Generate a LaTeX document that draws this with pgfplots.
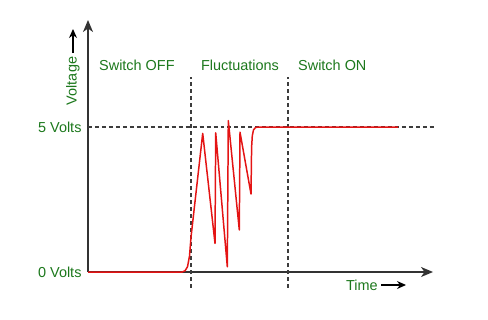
\documentclass[border=0pt]{standalone}
\usepackage{pgfplots}
\pgfplotsset{compat=1.18}
\usepackage{fontspec}
\setmainfont{Liberation Sans}
\usetikzlibrary{arrows.meta}
\definecolor{lblgreen}{RGB}{28,120,28}
\definecolor{sigred}{RGB}{228,20,20}
\definecolor{dashgray}{RGB}{60,60,60}
\begin{document}
\begin{tikzpicture}[x=1bp,y=1bp]
\path[use as bounding box] (0,0) rectangle (488,319);
\begin{axis}[
  at={(88bp,47bp)}, anchor=south west,
  scale only axis, width=345bp, height=252bp,
  xmin=0, xmax=345, ymin=0, ymax=8.69,
  axis lines=left,
  axis line style={line width=1.3pt, draw=black!80, -{Stealth[length=12bp,width=10bp,inset=3.5bp]}},
  xtick=\empty, ytick={0,5}, yticklabels={0 Volts,5 Volts},
  yticklabel style={text=lblgreen, font=\fontsize{14.5}{15}\selectfont, xshift=-3bp},
  /pgf/number format/assume math mode=true,
  major tick length=0pt,
  clip=false,
]
% reference dashed lines
\addplot[dashgray, line width=1.2pt, dash pattern=on 4pt off 3pt] coordinates {(0,5) (347,5)};
\addplot[dashgray, line width=1.2pt, dash pattern=on 4pt off 3pt] coordinates {(103,-0.55) (103,6.72)};
\addplot[dashgray, line width=1.2pt, dash pattern=on 4pt off 3pt] coordinates {(200,-0.55) (200,6.72)};
% signal
\addplot[sigred, line width=1.5pt, line join=round] coordinates {
(0,0) (94,0) (97,0.04) (99.5,0.18) (101.5,0.55) (103,1.2)
(114.7,4.78) (127,0.99) (127.7,4.8) (139.3,0.18) (140.3,5.22)
(151.3,1.45) (152,4.82) (163,2.69) (163.6,4.3) (164.3,4.7) (165.5,4.9) (167.5,4.98) (170,5) (310,5)
};
% text labels
\node[text=lblgreen, font=\fontsize{14.5}{16}\selectfont, anchor=base west, inner sep=0pt] at (axis cs:11,6.95) {Switch OFF};
\node[text=lblgreen, font=\fontsize{14.5}{16}\selectfont, anchor=base, inner sep=0pt] at (axis cs:152,6.95) {Fluctuations};
\node[text=lblgreen, font=\fontsize{14.5}{16}\selectfont, anchor=base west, inner sep=0pt] at (axis cs:210,6.95) {Switch ON};
\end{axis}
% axis titles with arrows
\node[text=lblgreen, font=\fontsize{14.5}{16}\selectfont, rotate=90, anchor=center, inner sep=0pt] at (73,238) {Voltage};
\draw[line width=1.3pt, -{Stealth[length=9bp,width=8bp]}] (73,266) -- (73,290);
\node[text=lblgreen, font=\fontsize{14.5}{16}\selectfont, anchor=base west, inner sep=0pt] at (346,29) {Time};
\draw[line width=1.3pt, -{Stealth[length=9bp,width=8bp]}] (381,34) -- (406,34);
\end{tikzpicture}
\end{document}
